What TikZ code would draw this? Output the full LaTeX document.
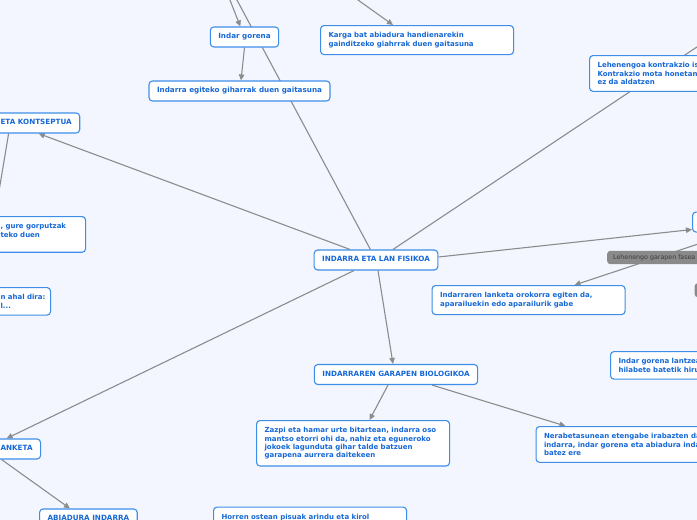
\documentclass[tikz,border=0pt]{standalone}
\usepackage{fontspec}
\setmainfont{DejaVu Sans}
\usetikzlibrary{calc,arrows.meta}
\definecolor{bgc}{HTML}{F3F6FE}
\definecolor{nodeb}{HTML}{3D8EE8}
\definecolor{nodet}{HTML}{1668D6}
\definecolor{connc}{HTML}{8C8C8C}
\definecolor{labf}{HTML}{8A8A8A}
\definecolor{labt}{HTML}{3C3C3C}
\pgfdeclarelayer{backl}
\pgfdeclarelayer{linesl}
\pgfsetlayers{backl,linesl,main}
\begin{document}
\begin{tikzpicture}[x=1pt,y=-1pt,
  box/.style={draw=nodeb, fill=white, line width=1.1pt, rounded corners=3.5pt, text=nodet, font=\fontsize{7.2}{8.2}\selectfont\bfseries, inner xsep=8pt},
  single/.style={box, inner ysep=6.5pt, text height=5.3pt, text depth=1.7pt},
  multi/.style={box, font=\fontsize{7}{8.2}\selectfont\bfseries, inner ysep=7pt, align=left, text width=#1},
  multi/.default=177pt,
  graylab/.style={fill=labf, rounded corners=3pt, text=labt, font=\fontsize{6.3}{7}\selectfont, inner xsep=6pt, inner ysep=3.5pt, text height=4.8pt, text depth=1.4pt},
  link/.style={draw=connc, line width=1.1pt},
  arr/.style={link, -{Triangle[length=6pt,width=5.5pt]}}
]
\useasboundingbox (0,0) rectangle (697,520);
\begin{pgfonlayer}{backl}
\fill[bgc] (0,0) rectangle (697,520);
\end{pgfonlayer}
\clip (0,0) rectangle (697,520);

% off-screen points
\coordinate (ptopA) at (226,-10);
\coordinate (ptopB) at (231.6,-10);
\coordinate (ptopC) at (344,-10);
\coordinate (pleft) at (-2.5,200);
\coordinate (pright) at (730,25);

% nodes
\node[single] (center) at (376,260) {INDARRA ETA LAN FISIKOA};
\node[single] (indargor) at (244.5,37) {Indar gorena};
\node[single] (egiteko) at (239.5,91) {Indarra egiteko giharrak duen gaitasuna};
\node[multi, anchor=north west] (karga) at (320,25) {Karga bat abiadura handienarekin\\gainditzeko giahrrak duen gaitasuna};
\node[single, anchor=west] (kontsept) at (-8,123) {ETA KONTSEPTUA};
\node[multi=77pt, anchor=north west] (gorputz) at (-8,216) {, gure gorputzak\\teko duen\\\phantom{x}};
\node[multi=42pt, anchor=north west] (ahal) at (-8,287) {n~ahal~dira:\\l...};
\node[single, anchor=west] (anketa) at (-8,449) {ANKETA};
\node[single, anchor=west] (abiadura) at (39,519) {ABIADURA INDARRA};
\node[multi, anchor=north west] (horren) at (213,506.5) {Horren ostean pisuak arindu eta kirol};
\node[multi, anchor=north west] (zazpi) at (256,420) {Zazpi eta hamar urte bitartean, indarra oso\\mantso etorri ohi da, nahiz eta eguneroko\\jokoek lagunduta gihar talde batzuen\\garapena aurrera daitekeen};
\node[single] (biolog) at (396,374.5) {INDARRAREN GARAPEN BIOLOGIKOA};
\node[multi, anchor=north west] (nerab) at (535.5,426) {Nerabetasunean etengabe irabazten da\\indarra, indar gorena eta abiadura inda\\batez ere};
\node[multi, anchor=north west] (lantz) at (610,351) {Indar gorena lantzea\\hilabete batetik hiru};
\node[multi, anchor=north west] (lanketa) at (431.5,285) {Indarraren lanketa orokorra egiten da,\\aparailuekin edo aparailurik gabe};
\node[multi, anchor=north west] (lehen) at (589,55) {Lehenengoa kontrakzio is\\Kontrakzio mota honetan\\ez da aldatzen};
\node[box, anchor=north west, minimum width=80pt, minimum height=20pt] (rnode) at (692,211.5) {};
\node[graylab, anchor=west] (fasea) at (607,257.5) {Lehenengo garapen fasea};
\node[graylab, anchor=north west, minimum width=40pt, minimum height=14pt] (gray2) at (694.5,283) {};

% connectors beneath nodes
\begin{pgfonlayer}{linesl}
\draw[arr] (ptopA) -- (indargor);
\draw[link] (ptopB) -- (center);
\draw[arr] (ptopC) -- ($(karga.north west)+(73,0)$);
\draw[arr] (indargor.south) -- ($(egiteko.north)+(1.5,0)$);
\draw[arr] ($(center.north)+(-26,0)$) -- ($(kontsept.south)+(2.5,0)$);
\draw[link] ($(kontsept.south)+(-27.5,0)$) -- (pleft);
\draw[link] ($(center.north)+(17,0)$) -- (pright);
\draw[arr] ($(center.east)+(0,-3)$) -- ($(rnode.west)+(0,7.5)$);
\draw[arr] (rnode.south) -- ($(lanketa.north)+(46,0)$);
\draw[arr] ($(center.south)+(2,0)$) -- ($(biolog.north)+(-3,0)$);
\draw[arr] ($(center.south)+(-22,0)$) -- ($(anketa.north)+(-10,0)$);
\draw[arr] ($(anketa.south)+(-15,0)$) -- ($(abiadura.north)+(-18.5,0)$);
\draw[arr] ($(biolog.south)+(-8,0)$) -- ($(zazpi.north)+(16.5,0)$);
\draw[arr] ($(biolog.south)+(36,0)$) -- ($(nerab.north west)+(30,0)$);
\end{pgfonlayer}
\end{tikzpicture}
\end{document}
